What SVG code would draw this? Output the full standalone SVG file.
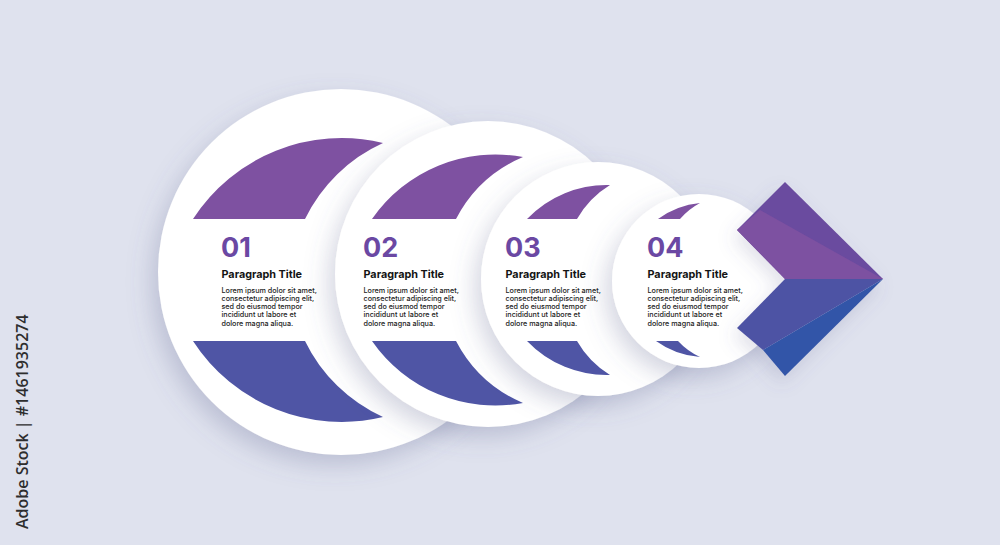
<svg xmlns="http://www.w3.org/2000/svg" width="1000" height="545" viewBox="0 0 1000 545">
  <defs>
    <filter id="sh" x="-30%" y="-30%" width="160%" height="170%">
      <feDropShadow dx="-6" dy="10" stdDeviation="12" flood-color="#5a5f8a" flood-opacity="0.27"/>
    </filter>
    <filter id="shs" x="-30%" y="-30%" width="160%" height="170%">
      <feDropShadow dx="-4" dy="8" stdDeviation="9" flood-color="#5a5f8a" flood-opacity="0.18"/>
    </filter>
  </defs>
  <style>
    .disc { fill: #ffffff; filter: url(#sh); }
    .top { fill: #7e51a1; }
    .bot { fill: #4f55a5; }
    .num { font-family: Inter, "Liberation Sans", sans-serif; font-weight: 700; font-size: 27px; fill: #6b48a3; }
    .ttl { font-family: Inter, "Liberation Sans", sans-serif; font-weight: 700; font-size: 10.8px; fill: #141414; }
    .body { font-family: Inter, "Liberation Sans", sans-serif; font-weight: 500; font-size: 7.2px; fill: #222222; }
    .wm { font-family: "Open Sans", "Liberation Sans", sans-serif; font-weight: 600; font-size: 16px; fill: #2e2e2e; }
  </style>
  <rect x="0" y="0" width="1000" height="545" fill="#dfe2ee"/>

  <g id="step1">
    <circle class="disc" cx="341" cy="272" r="183"/>
    <path class="top" d="M193,219 A177,177 0 0 1 383,143 A160,160 0 0 0 305,219 Z"/>
    <path class="bot" d="M193,341 A177,177 0 0 0 383,417 A160,160 0 0 1 305,341 Z"/>
  </g>
  <g id="step2">
    <circle class="disc" cx="488" cy="274" r="153"/>
    <path class="top" d="M372,219 A150,150 0 0 1 523,157 A135,135 0 0 0 456,219 Z"/>
    <path class="bot" d="M372,341 A150,150 0 0 0 523,403 A135,135 0 0 1 456,341 Z"/>
  </g>
  <g id="step3">
    <circle class="disc" cx="598" cy="279" r="117"/>
    <path class="top" d="M527,219 A110,110 0 0 1 610,185 A95,95 0 0 0 577,219 Z"/>
    <path class="bot" d="M527,341 A110,110 0 0 0 610,375 A95,95 0 0 1 577,341 Z"/>
  </g>
  <g id="step4">
    <circle class="disc" cx="699" cy="281" r="87"/>
    <path class="top" d="M658,219 A85,85 0 0 1 700,203 A70,70 0 0 0 680,219 Z"/>
    <path class="bot" d="M656,341 A85,85 0 0 0 700,357 A70,70 0 0 1 678,341 Z"/>
  </g>
  <g id="arrow" filter="url(#shs)">
    <polygon points="737,230 785,182 883,279 785,279" fill="#6a4b9f"/>
    <polygon points="737,230 760,210 883,279 785,279" fill="#7d51a1"/>
    <polygon points="737,328 785,279 883,279 763,350" fill="#4e52a4"/>
    <polygon points="763,350 883,279 785,376" fill="#3355a8"/>
  </g>

  <g id="text1">
    <text class="num" x="221" y="256.5">01</text>
    <text class="ttl" x="221.5" y="277.5">Paragraph Title</text>
    <text class="body" x="221.5" y="292.5">Lorem ipsum dolor sit amet,</text>
    <text class="body" x="221.5" y="300.8">consectetur adipiscing elit,</text>
    <text class="body" x="221.5" y="309.1">sed do eiusmod tempor</text>
    <text class="body" x="221.5" y="317.4">incididunt ut labore et</text>
    <text class="body" x="221.5" y="325.7">dolore magna aliqua.</text>
  </g>
  <g id="text2">
    <text class="num" x="363" y="256.5">02</text>
    <text class="ttl" x="363.5" y="277.5">Paragraph Title</text>
    <text class="body" x="363.5" y="292.5">Lorem ipsum dolor sit amet,</text>
    <text class="body" x="363.5" y="300.8">consectetur adipiscing elit,</text>
    <text class="body" x="363.5" y="309.1">sed do eiusmod tempor</text>
    <text class="body" x="363.5" y="317.4">incididunt ut labore et</text>
    <text class="body" x="363.5" y="325.7">dolore magna aliqua.</text>
  </g>
  <g id="text3">
    <text class="num" x="505" y="256.5">03</text>
    <text class="ttl" x="505.5" y="277.5">Paragraph Title</text>
    <text class="body" x="505.5" y="292.5">Lorem ipsum dolor sit amet,</text>
    <text class="body" x="505.5" y="300.8">consectetur adipiscing elit,</text>
    <text class="body" x="505.5" y="309.1">sed do eiusmod tempor</text>
    <text class="body" x="505.5" y="317.4">incididunt ut labore et</text>
    <text class="body" x="505.5" y="325.7">dolore magna aliqua.</text>
  </g>
  <g id="text4">
    <text class="num" x="647" y="256.5">04</text>
    <text class="ttl" x="647.5" y="277.5">Paragraph Title</text>
    <text class="body" x="647.5" y="292.5">Lorem ipsum dolor sit amet,</text>
    <text class="body" x="647.5" y="300.8">consectetur adipiscing elit,</text>
    <text class="body" x="647.5" y="309.1">sed do eiusmod tempor</text>
    <text class="body" x="647.5" y="317.4">incididunt ut labore et</text>
    <text class="body" x="647.5" y="325.7">dolore magna aliqua.</text>
  </g>

  <text class="wm" transform="translate(28,529) rotate(-90)">Adobe Stock | #1461935274</text>
</svg>
